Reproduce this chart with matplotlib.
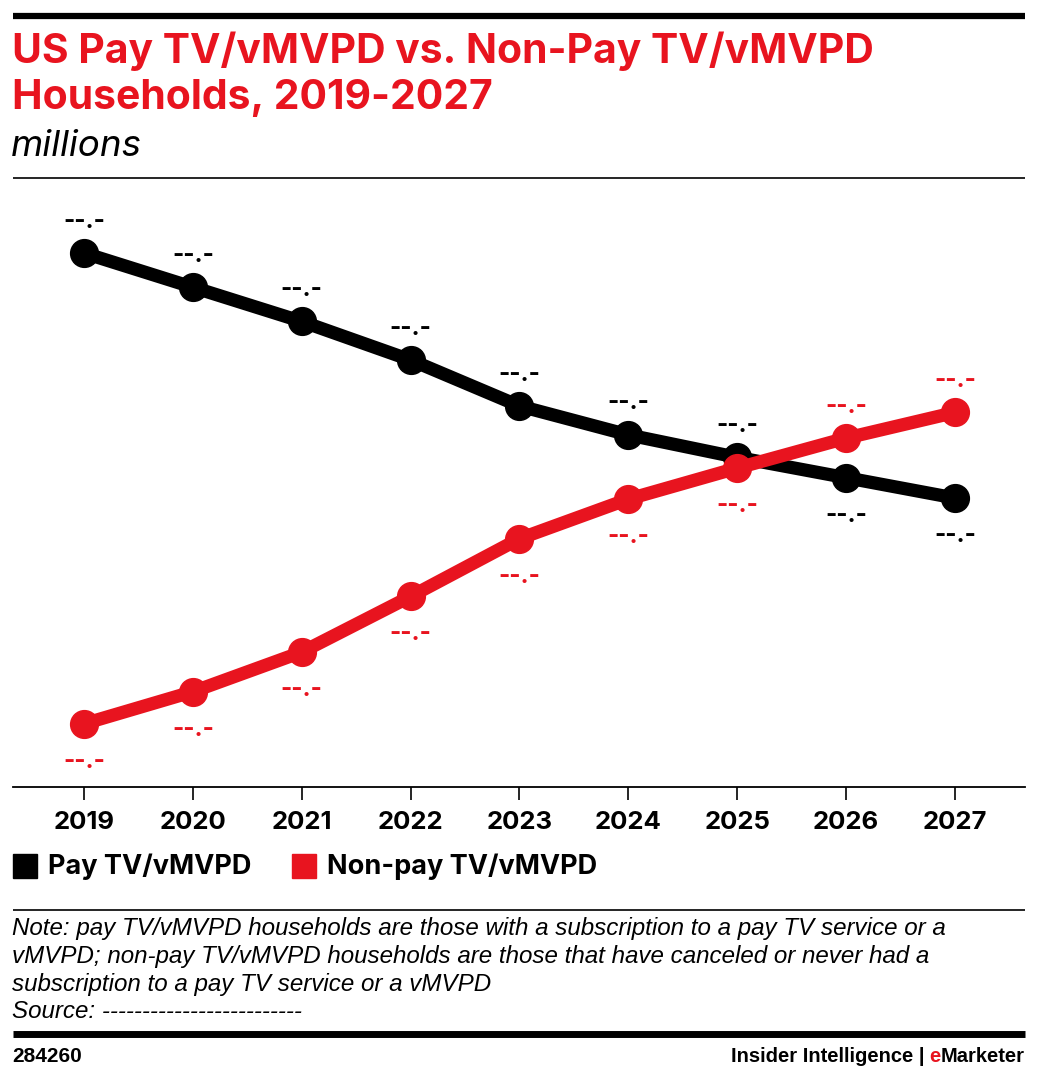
import matplotlib
matplotlib.use("Agg")
import matplotlib.pyplot as plt
from matplotlib.patches import Rectangle
from matplotlib.lines import Line2D

# ── Data (labels are hidden as "--.-") ───────────────────────────────────────
years = [2019, 2020, 2021, 2022, 2023, 2024, 2025, 2026, 2027]
pay_tv = [86.0, 82.8, 79.6, 76.0, 71.7, 69.0, 66.9, 65.0, 63.1]
non_pay_tv = [42.0, 45.0, 48.7, 53.9, 59.3, 63.0, 65.9, 68.7, 71.1]
pay_label_pos = ["above"] * 7 + ["below"] * 2
non_pay_label_pos = ["below"] * 7 + ["above"] * 2
series_names = ["Pay TV/vMVPD", "Non-pay TV/vMVPD"]

RED = "#e8141f"
BLACK = "#000000"
W, H = 1038, 1080
FONT = "Inter"
NARROW = ["Liberation Sans Narrow", "Liberation Sans"]

fig = plt.figure(figsize=(W / 100, H / 100), dpi=100)


def fx(px):
    return px / W


def fy(py):
    return 1 - py / H


def hline(y, x0, x1, lw):
    fig.add_artist(Line2D([fx(x0), fx(x1)], [fy(y), fy(y)], color=BLACK, lw=lw,
                          transform=fig.transFigure, solid_capstyle="butt"))


# ── Header ────────────────────────────────────────────────────────────────────
hline(15.5, 13, 1025, 4.5)
fig.text(fx(12), fy(51), "US Pay TV/vMVPD vs. Non-Pay TV/vMVPD", color=RED,
         fontsize=29.4, fontweight="bold", family=FONT, va="center", ha="left")
fig.text(fx(12), fy(98), "Households, 2019-2027", color=RED,
         fontsize=29.4, fontweight="bold", family=FONT, va="center", ha="left")
fig.text(fx(11), fy(147), "millions", color=BLACK, fontsize=26.5,
         style="italic", family=FONT, va="center", ha="left")
hline(178, 13, 1025, 1.2)

# ── Plot area ─────────────────────────────────────────────────────────────────
ax_top, ax_bot = 190, 787
ax = fig.add_axes([fx(13), fy(ax_bot), fx(1025) - fx(13), (ax_bot - ax_top) / H])
ax.set_xlim(2018.348, 2027.643)
ax.set_ylim(36.09, 91.89)

ax.plot(years, pay_tv, color=BLACK, lw=9.5, marker="o", ms=20,
        solid_joinstyle="round", zorder=3)
ax.plot(years, non_pay_tv, color=RED, lw=9.5, marker="o", ms=20,
        solid_joinstyle="round", zorder=4)

for vals, pos, col in [(pay_tv, pay_label_pos, BLACK),
                       (non_pay_tv, non_pay_label_pos, RED)]:
    for x, v, p in zip(years, vals, pos):
        dy = 23 if p == "above" else -27
        ax.annotate("--.-", (x, v), xytext=(0, dy), textcoords="offset points",
                    ha="center", va="center", color=col, fontsize=17.5,
                    fontweight="bold", family=FONT, zorder=5)

for s in ["top", "right", "left"]:
    ax.spines[s].set_visible(False)
ax.spines["bottom"].set_linewidth(1.3)
ax.set_yticks([])
ax.set_xticks(years)
ax.set_xticklabels([str(y) for y in years], fontsize=18.5, fontweight="bold",
                   family=FONT)
ax.tick_params(axis="x", length=9, width=1.2, pad=8, colors=BLACK)
ax.set_facecolor("none")

# ── Legend ───────────────────────────────────────────────────────────────────
for x0, name, col in [(13, series_names[0], BLACK), (292, series_names[1], RED)]:
    fig.add_artist(Rectangle((fx(x0), fy(878)), fx(24), 24 / H, color=col,
                             transform=fig.transFigure))
    fig.text(fx(x0 + 35), fy(867), name, fontsize=19.5, fontweight="bold",
             family=FONT, va="center", ha="left")

# ── Notes / footer ───────────────────────────────────────────────────────────
hline(910, 13, 1025, 1.2)
note_lines = [
    "Note: pay TV/vMVPD households are those with a subscription to a pay TV service or a",
    "vMVPD; non-pay TV/vMVPD households are those that have canceled or never had a",
    "subscription to a pay TV service or a vMVPD",
    "Source: -------------------------",
]
for i, line in enumerate(note_lines):
    fig.text(fx(12), fy(928 + i * 28), line, fontsize=17.4, style="italic",
             family=NARROW, va="center", ha="left")
hline(1034, 13, 1025, 5)
fig.text(fx(12), fy(1056), "284260", fontsize=15, fontweight="bold",
         family=NARROW, va="center", ha="left")

# footer brand: "Insider Intelligence | " + red "e" + "Marketer", right aligned
fig.canvas.draw()
r = fig.canvas.get_renderer()
rest = fig.text(fx(1025), fy(1056), "Marketer", fontsize=14.5, fontweight="bold",
                family=NARROW, va="center", ha="right")
rb = rest.get_window_extent(r)
e = fig.text(rb.x0 / W, fy(1056), "e", fontsize=14.5, fontweight="bold",
             family=NARROW, va="center", ha="right", color=RED)
eb = e.get_window_extent(r)
fig.text(eb.x0 / W, fy(1056), "Insider Intelligence | ", fontsize=14.5,
         fontweight="bold", family=NARROW, va="center", ha="right")

fig.savefig("out.png", dpi=100)
